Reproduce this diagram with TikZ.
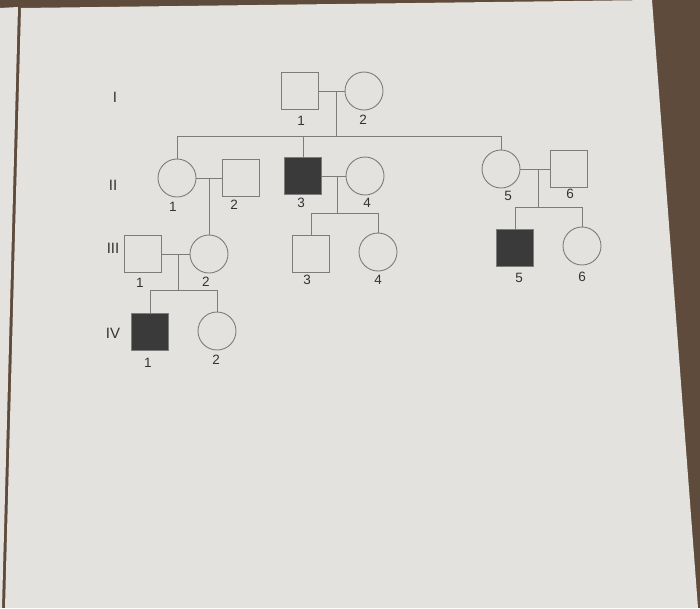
\documentclass[tikz,border=0pt]{standalone}
\usepackage{fontspec}
\setmainfont{Liberation Sans}
\usepackage{xcolor}
\usepackage{tikz}
\definecolor{paper}{HTML}{E4E2DF}
\definecolor{table}{HTML}{5E4B3B}
\definecolor{ink}{HTML}{7C7C7C}
\definecolor{sick}{HTML}{3A3A3A}

\begin{document}
\begin{tikzpicture}[x=1pt,y=-1pt,
    male/.style={draw=ink,line width=0.9pt,rectangle,minimum size=37pt,inner sep=0pt},
    female/.style={draw=ink,line width=0.9pt,circle,minimum size=38pt,inner sep=0pt},
    sickmale/.style={male,fill=sick},
    num/.style={font=\fontsize{13.5}{15}\selectfont,text=black!80},
    gen/.style={font=\fontsize{15}{17}\selectfont,text=black!80},
    link/.style={draw=ink,line width=0.9pt}]
				\useasboundingbox (0,0) rectangle (700,608);
				% photo: table and sheets
				\fill[table] (0,0) rectangle (700,608);
				\fill[paper] (0,8) -- (18,7) -- (2,608) -- (0,608) -- cycle;
				\fill[paper] (21,8) -- (652,0) -- (698,608) -- (5,608) -- cycle;
				
				% generations
				\foreach \n/\x/\y/\t in
				{gI/115/97/I, gII/113/185/II, gIII/113/248/III, gIV/113/333/IV}{
					\node[gen] (\n) at (\x,\y) {\t};
				}
				
				\foreach \n/\x/\y/\s in
				{I1/300/91/male, I2/364/91/female,
				 II1/177/178/female, II2/241/178/male, II3/303/176/sickmale, II4/365/176/female,
				 II5/501/169/female, II6/569/169/male,
				 III1/143/254/male, III2/209/254/female, III3/311/254/male, III4/378/252/female,
				 III5/515/248/sickmale, III6/582/246/female,
				 IV1/150/332/sickmale, IV2/217/331/female}{
					\node[\s] (\n) at (\x,\y) {};
				}
				
				% numbers
				\foreach \n/\x/\y/\t in
				{lI1/301/121/1, lI2/363/120/2,
				 lII1/173/207/1, lII2/234/205/2, lII3/301/203/3, lII4/367/203/4,
				 lII5/508/196/5, lII6/570/194/6,
				 lIII1/140/283/1, lIII2/206/282/2, lIII3/307/280/3, lIII4/378/280/4,
				 lIII5/519/278/5, lIII6/582/277/6,
				 lIV1/148/363/1, lIV2/216/360/2}{
					\node[num] (\n) at (\x,\y) {\t};
				}
				
				% matings and sibships
				\coordinate (mI) at (336,91);
				\coordinate (mII1) at (209,178);
				\coordinate (mII3) at (337,176);
				\coordinate (mII5) at (538,169);
				\coordinate (mIII1) at (178,254);
				\coordinate (sIIa) at (177,136);
				\coordinate (sIIb) at (501,136);
				\coordinate (sIIIa) at (311,213);
				\coordinate (sIIIb) at (378,213);
				\coordinate (sIIIc) at (515,207);
				\coordinate (sIIId) at (582,207);
				\coordinate (sIVa) at (150,290);
				\coordinate (sIVb) at (217,290);
				
				\foreach \x/\y in
				{I1.east/I2.west, II1.east/II2.west, II3.east/II4.west, II5.east/II6.west,
				 III1.east/III2.west,
				 sIIa/sIIb, sIIIa/sIIIb, sIIIc/sIIId, sIVa/sIVb,
				 sIIa/II1.north, sIIb/II5.north, mII1/III2.north,
				 sIIIa/III3.north, sIIIb/III4.north, sIIIc/III5.north, sIIId/III6.north,
				 sIVa/IV1.north, sIVb/IV2.north}{
					\draw[link] (\x)--(\y);
				}
				\draw[link] (mI) -- (mI |- sIIa);
				\draw[link] (II3.north) -- (II3.north |- sIIa);
				\draw[link] (mII3) -- (mII3 |- sIIIa);
				\draw[link] (mII5) -- (mII5 |- sIIIc);
				\draw[link] (mIII1) -- (mIII1 |- sIVa);
			\end{tikzpicture}
\end{document}
